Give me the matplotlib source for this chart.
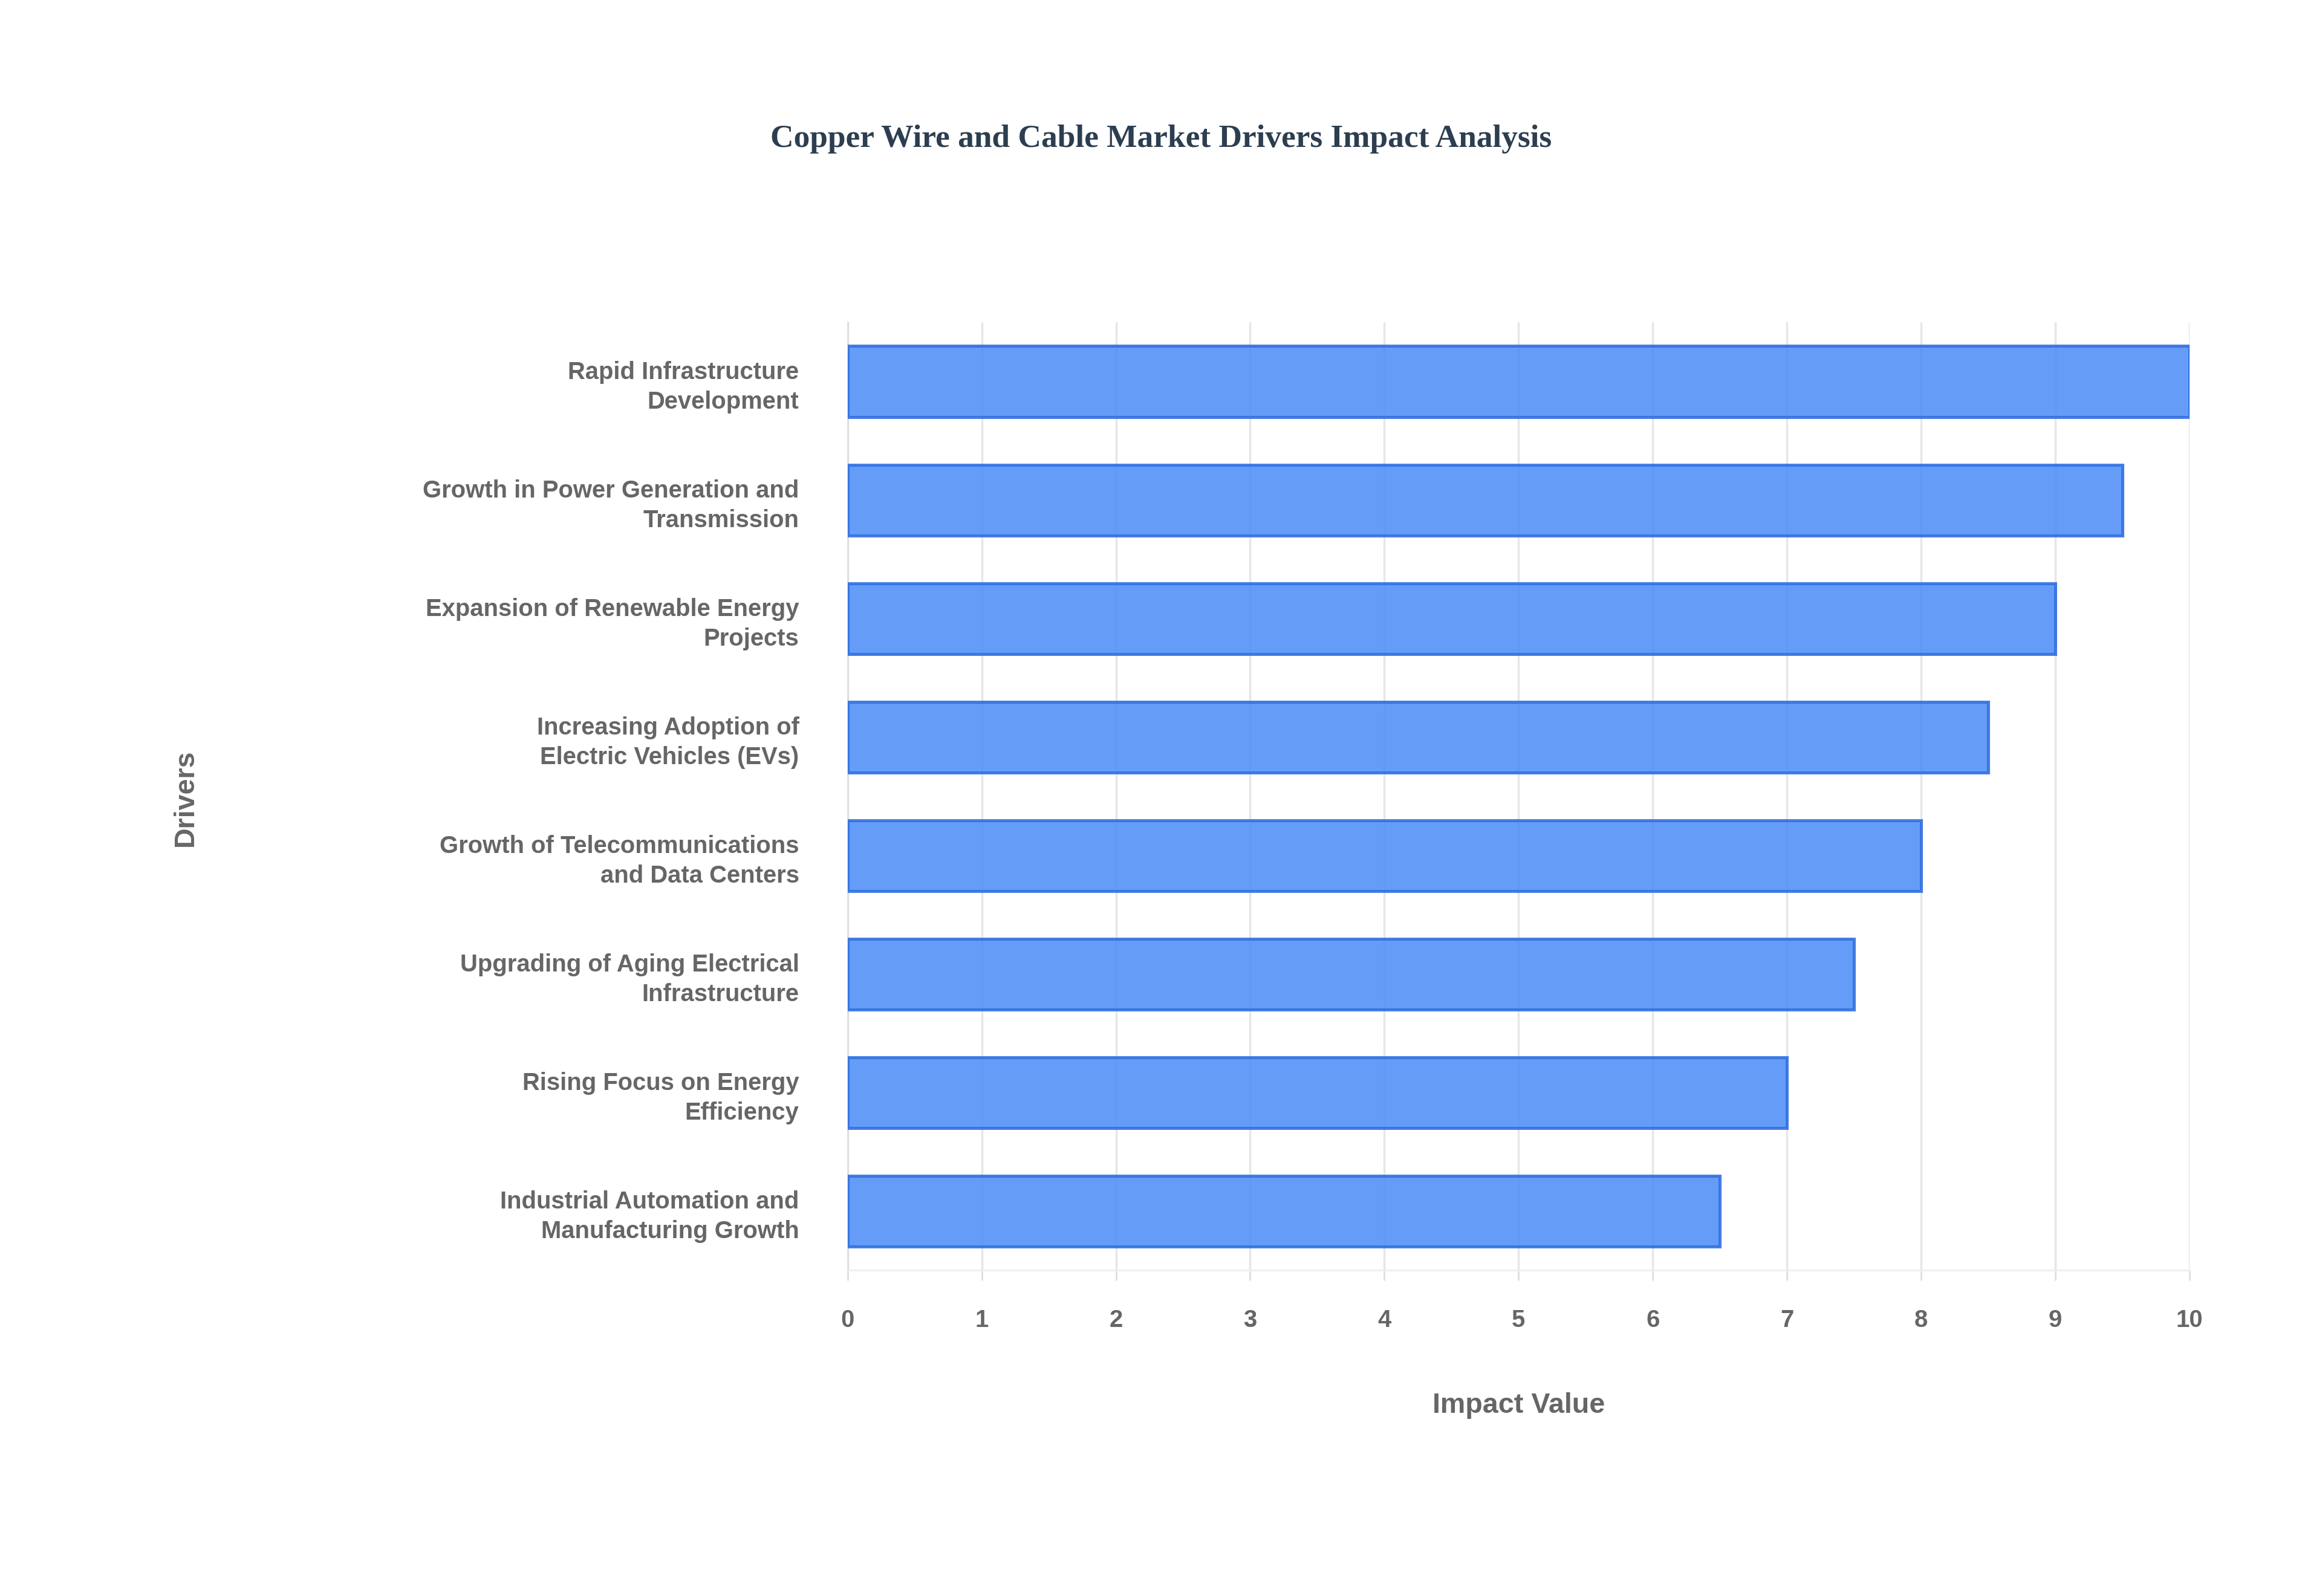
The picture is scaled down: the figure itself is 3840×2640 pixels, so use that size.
import matplotlib
matplotlib.use("Agg")
import matplotlib.pyplot as plt

drivers = [
    "Rapid Infrastructure\nDevelopment",
    "Growth in Power Generation and\nTransmission",
    "Expansion of Renewable Energy\nProjects",
    "Increasing Adoption of\nElectric Vehicles (EVs)",
    "Growth of Telecommunications\nand Data Centers",
    "Upgrading of Aging Electrical\nInfrastructure",
    "Rising Focus on Energy\nEfficiency",
    "Industrial Automation and\nManufacturing Growth",
]
impact = [10, 9.5, 9, 8.5, 8, 7.5, 7, 6.5]
xticks = list(range(0, 11))

fig = plt.figure(figsize=(16, 11), dpi=240)
ax = fig.add_axes([0.365, 0.204, 0.578, 0.594])
pos = list(range(len(drivers)))
ax.barh(pos, impact, height=0.6, color="#4f8ef7", alpha=0.88,
        edgecolor="#2f6fe0", linewidth=1.5, zorder=3)
ax.set_ylim(len(drivers) - 0.5, -0.5)
ax.set_xlim(0, 10)
ax.set_yticks(pos)
ax.set_yticklabels(drivers, fontsize=12, fontweight="bold", color="#666666",
                   fontfamily="Liberation Sans", linespacing=1.35)
ax.set_xticks(xticks)
ax.set_xticklabels([str(t) for t in xticks], fontsize=12, fontweight="bold",
                   color="#666666", fontfamily="Liberation Sans")
ax.grid(axis="x", color="#e6e6e6", linewidth=1, zorder=0)
for s in ["top", "right"]:
    ax.spines[s].set_visible(False)
ax.spines["left"].set_color("#dddddd")
ax.spines["bottom"].set_color("#eeeeee")
ax.tick_params(axis="y", length=0, pad=24)
ax.tick_params(axis="x", length=5, color="#dddddd", pad=14)
ax.set_xlabel("Impact Value", fontsize=14, fontweight="bold", color="#666666",
              fontfamily="Liberation Sans", labelpad=30)
fig.text(0.08, 0.5, "Drivers", rotation=90, fontsize=14, fontweight="bold",
         color="#666666", fontfamily="Liberation Sans", ha="center", va="center")
fig.text(0.5, 0.913, "Copper Wire and Cable Market Drivers Impact Analysis",
         fontsize=16, fontweight="bold", color="#2c3e50",
         fontfamily="Liberation Serif", ha="center", va="center")
fig.savefig("out.png", dpi=240, facecolor="white")
